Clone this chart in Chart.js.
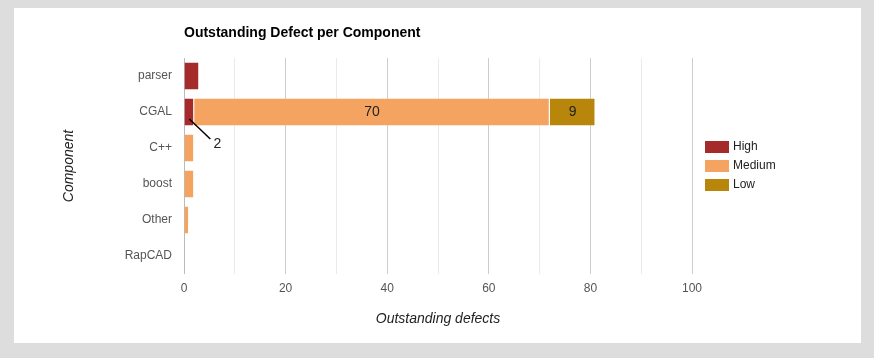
<!DOCTYPE html>
<html>
<head>
<meta charset="utf-8">
<script src="https://cdn.jsdelivr.net/npm/chart.js@4.4.1/dist/chart.umd.min.js"></script>
<style>
  html, body { margin: 0; padding: 0; background: #dddddd; }
  #wrap { position: relative; width: 874px; height: 358px; }
  #panel { position: absolute; left: 14px; top: 8px; width: 847px; height: 335px; background: #fff; }
  #ch { position: absolute; left: 0; top: 0; }
</style>
</head>
<body>
<div id="wrap">
  <div id="panel"></div>
  <canvas id="ch" width="874" height="358"></canvas>
</div>
<script>
/* ── Data ── */
const components = ['parser', 'CGAL', 'C++', 'boost', 'Other', 'RapCAD'];
const highVals   = [3, 2, 0, 0, 0, 0];
const mediumVals = [0, 70, 2, 2, 1, 0];
const lowVals    = [0, 9, 0, 0, 0, 0];
const xTicks     = [0, 20, 40, 60, 80, 100];

const seriesNames  = ['High', 'Medium', 'Low'];
const seriesColors = ['#a52a2a', '#f4a460', '#b8860b'];

// labels drawn outside the bar with a leader line
const outsideLabels = [{ row: 1, series: 0 }];

const FONT = "Arial, 'Liberation Sans', sans-serif";

/* ── Plugin: title, legend, value labels ── */
const extras = {
  id: 'extras',
  afterDatasetsDraw(chart) {
    const ctx = chart.ctx;
    const area = chart.chartArea;
    ctx.save();

    // title, aligned with the plot area
    ctx.fillStyle = '#000';
    ctx.font = 'bold 14px ' + FONT;
    ctx.textAlign = 'left';
    ctx.textBaseline = 'middle';
    ctx.fillText('Outstanding Defect per Component', area.left, 33.5);

    // in-bar labels for wide segments
    ctx.font = '14px ' + FONT;
    ctx.textAlign = 'center';
    ctx.fillStyle = '#222';
    chart.data.datasets.forEach((ds, di) => {
      chart.getDatasetMeta(di).data.forEach((bar, i) => {
        const w = Math.abs(bar.x - bar.base);
        if (ds.data[i] > 0 && w > 30) ctx.fillText(String(ds.data[i]), (bar.x + bar.base) / 2, bar.y);
      });
    });

    // leader-line labels
    outsideLabels.forEach(o => {
      const bar = chart.getDatasetMeta(o.series).data[o.row];
      const cx = (bar.x + bar.base) / 2;
      const y0 = bar.y + 7;
      ctx.strokeStyle = '#000';
      ctx.lineWidth = 1.5;
      ctx.beginPath();
      ctx.moveTo(cx, y0);
      ctx.lineTo(cx + 21, y0 + 20);
      ctx.stroke();
      ctx.fillStyle = '#222';
      ctx.textAlign = 'center';
      ctx.fillText(String(chart.data.datasets[o.series].data[o.row]), cx + 28, y0 + 25);
    });

    // legend on the right
    ctx.font = '12px ' + FONT;
    ctx.textAlign = 'left';
    chart.data.datasets.forEach((ds, i) => {
      const y = 147 + i * 19;
      ctx.fillStyle = ds.backgroundColor;
      ctx.fillRect(705, y - 6, 24, 12);
      ctx.fillStyle = '#222';
      ctx.fillText(ds.label, 733, y);
    });

    ctx.restore();
  }
};

const mkSet = (i, data) => ({
  label: seriesNames[i],
  data,
  backgroundColor: seriesColors[i],
  borderColor: '#fff',
  borderWidth: { left: 0, top: 0, bottom: 0, right: 1 },
  borderSkipped: false,
  categoryPercentage: 0.75,
  barPercentage: 1,
});

new Chart(document.getElementById('ch'), {
  type: 'bar',
  data: {
    labels: components,
    datasets: [mkSet(0, highVals), mkSet(1, mediumVals), mkSet(2, lowVals)]
  },
  options: {
    indexAxis: 'y',
    responsive: false,
    animation: false,
    layout: { padding: { left: 55, right: 182, top: 58, bottom: 30 } },
    plugins: { legend: { display: false }, tooltip: { enabled: false } },
    scales: {
      x: {
        stacked: true,
        min: 0, max: 100,
        afterFit: s => { s.height = 54; },
        afterBuildTicks: s => {
          const t = [];
          for (let v = 0; v <= 100; v += 10) t.push({ value: v });
          s.ticks = t;
        },
        border: { display: false },
        grid: {
          drawTicks: false,
          color: c => c.tick.value === 0 ? '#bbbbbb' : (xTicks.includes(c.tick.value) ? '#cccccc' : '#ebebeb')
        },
        ticks: {
          padding: 7,
          color: '#555',
          font: { family: FONT, size: 12 },
          maxRotation: 0,
          autoSkip: false,
          callback: v => xTicks.includes(v) ? String(v) : ''
        },
        title: {
          display: true,
          text: 'Outstanding defects',
          color: '#222',
          padding: { top: 0, bottom: 0 },
          font: { family: FONT, size: 14, style: 'italic' }
        }
      },
      y: {
        stacked: true,
        afterFit: s => { s.width = 129; },
        border: { display: false },
        grid: { display: false, drawTicks: false },
        ticks: { padding: 12, color: '#555', font: { family: FONT, size: 12 } },
        title: {
          display: true,
          text: 'Component',
          color: '#222',
          padding: { top: 6, bottom: 0 },
          font: { family: FONT, size: 14, style: 'italic' }
        }
      }
    }
  },
  plugins: [extras]
});
</script>
</body>
</html>
